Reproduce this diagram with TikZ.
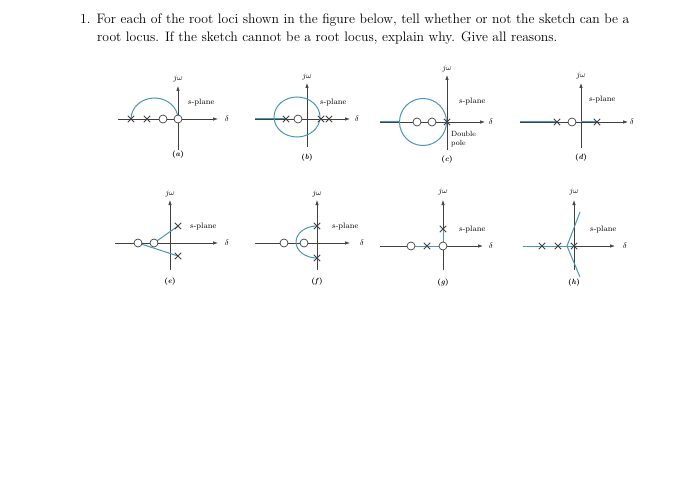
\documentclass[tikz,border=0pt]{standalone}
\usetikzlibrary{arrows.meta,shapes.misc}
\begin{document}
\begin{tikzpicture}[x=1pt,y=-1pt,
  ax/.style={draw=black!75,line width=0.7pt,-{Latex[length=5pt,width=3.5pt]}},
  axn/.style={draw=black!75,line width=0.7pt},
  loc/.style={draw={rgb,255:red,70;green,150;blue,190},line width=1pt},
  zer/.style={circle,draw=black!75,fill=white,line width=0.7pt,minimum size=8pt,inner sep=0pt},
  pol/.style={cross out,draw=black!75,line width=0.9pt,minimum size=5.5pt,inner sep=0pt},
  lab/.style={font=\fontsize{8}{9}\selectfont,inner sep=0pt},
  figcap/.style={font=\fontsize{7.5}{8}\selectfont\bfseries,inner sep=0pt},
  txt/.style={font=\fontsize{13.7}{15}\selectfont,anchor=west,inner sep=0pt}]
\useasboundingbox (0,0) rectangle (700,486);
\node[txt] (t1) at (80,20) {1. For each of the root loci shown in the figure below, tell whether or not the sketch can be a};
\node[txt] (t2) at (97,38) {root locus. If the sketch cannot be a root locus, explain why. Give all reasons.};
% (a)
\draw[axn] (178,150) -- (178,96); \draw[ax] (178,96) -- (178,86);
\draw[ax] (118,119) -- (218,119);
\draw[loc] (131,119) arc[start angle=180,end angle=360,x radius=23.5,y radius=21];
\node[pol] (ap1) at (131,119) {}; \node[pol] (ap2) at (147,119) {};
\node[zer] (az1) at (163,119) {}; \node[zer] (az2) at (178,119) {};
\node[lab] (aj) at (178,79) {$j\omega$};
\node[lab] (as) at (201,103) {$s$-plane};
\node[lab] (ad) at (227,119) {$\delta$};
\node[figcap] (ac) at (178,155) {(\textit{a})};
% (b)
\draw[axn] (307,147) -- (307,90); \draw[ax] (307,90) -- (307,83);
\draw[ax] (255,119) -- (350,119);
\draw[loc] (255,119) -- (286,119);
\draw[loc] (297,117) ellipse[x radius=23,y radius=20];
\node[pol] (bp1) at (286,119) {}; \node[zer] (bz) at (298,119) {};
\node[pol] (bp2) at (321,119) {}; \node[pol] (bp3) at (329,119) {};
\node[lab] (bj) at (307,77) {$j\omega$};
\node[lab] (bs) at (333,103) {$s$-plane};
\node[lab] (bd) at (357,119) {$\delta$};
\node[figcap] (bc) at (307,158) {(\textit{b})};
% (c)
\draw[axn] (447,150) -- (447,82); \draw[ax] (447,82) -- (447,75);
\draw[ax] (380,122) -- (485,122);
\draw[loc] (380,122) -- (400,122);
\draw[loc] (423,122) circle[radius=23.5];
\node[zer] (cz1) at (417,122) {}; \node[zer] (cz2) at (432,122) {};
\node[pol] (cp) at (447,122) {};
\node[lab] (cj) at (447,69) {$j\omega$};
\node[lab] (cs) at (472,102) {$s$-plane};
\node[lab] (cd) at (491,122) {$\delta$};
\node[font=\fontsize{7.5}{9}\selectfont,align=left,anchor=west,inner sep=0pt] (cdp) at (451,139) {Double\\pole};
\node[figcap] (cc) at (447,160) {(\textit{c})};
% (d)
\draw[axn] (581,148) -- (581,90); \draw[ax] (581,90) -- (581,83);
\draw[ax] (520,122) -- (628,122);
\draw[loc] (520,122) -- (557,122); \draw[loc] (581,122) -- (597,122);
\node[pol] (dp1) at (557,122) {}; \node[zer] (dz) at (572,122) {};
\node[pol] (dp2) at (597,122) {};
\node[lab] (dj) at (581,76) {$j\omega$};
\node[lab] (ds) at (602,100) {$s$-plane};
\node[lab] (dd) at (632,122) {$\delta$};
\node[figcap] (dc) at (581,158) {(\textit{d})};
% (e)
\draw[axn] (170,270) -- (170,207); \draw[ax] (170,207) -- (170,200);
\draw[ax] (115,243) -- (218,243);
\draw[loc] (154,243) -- (178,226); \draw[loc] (138,243) -- (178,256);
\node[zer] (ez1) at (138,243) {}; \node[zer] (ez2) at (154,243) {};
\node[pol] (ep1) at (178,226) {}; \node[pol] (ep2) at (178,256) {};
\node[lab] (ej) at (170,194) {$j\omega$};
\node[lab] (es) at (203,226) {$s$-plane};
\node[lab] (ed) at (227,243) {$\delta$};
\node[figcap] (ec) at (170,282) {(\textit{e})};
% (f)
\draw[axn] (317,270) -- (317,207); \draw[ax] (317,207) -- (317,200);
\draw[ax] (255,243) -- (350,243);
\draw[loc] (317,226) arc[start angle=270,end angle=90,x radius=21,y radius=16];
\node[zer] (fz1) at (284,243) {}; \node[zer] (fz2) at (304,243) {};
\node[pol] (fp1) at (317,226) {}; \node[pol] (fp2) at (317,258) {};
\node[lab] (fj) at (317,194) {$j\omega$};
\node[lab] (fs) at (345,226) {$s$-plane};
\node[lab] (fd) at (362,243) {$\delta$};
\node[figcap] (fc) at (317,282) {(\textit{f})};
% (g)
\draw[axn] (443,270) -- (443,207); \draw[ax] (443,207) -- (443,200);
\draw[ax] (380,246) -- (483,246);
\draw[loc] (411,246) -- (443,246); \draw[loc] (443,229) -- (443,246);
\node[zer] (gz1) at (411,246) {}; \node[pol] (gp1) at (427,246) {};
\node[zer] (gz2) at (443,246) {}; \node[pol] (gp2) at (443,229) {};
\node[lab] (gj) at (443,192) {$j\omega$};
\node[lab] (gs) at (472,229) {$s$-plane};
\node[lab] (gd) at (491,246) {$\delta$};
\node[figcap] (gc) at (443,283) {(\textit{g})};
% (h)
\draw[axn] (574,270) -- (574,207); \draw[ax] (574,207) -- (574,200);
\draw[ax] (523,246) -- (615,246);
\draw[loc] (523,246) -- (574,246);
\draw[loc] (580,212) -- (567,246) -- (580,277);
\node[pol] (hp1) at (542,246) {}; \node[pol] (hp2) at (558,246) {};
\node[pol] (hp3) at (574,246) {};
\node[lab] (hj) at (574,192) {$j\omega$};
\node[lab] (hs) at (603,229) {$s$-plane};
\node[lab] (hd) at (625,246) {$\delta$};
\node[figcap] (hc) at (574,283) {(\textit{h})};
\end{tikzpicture}
\end{document}
